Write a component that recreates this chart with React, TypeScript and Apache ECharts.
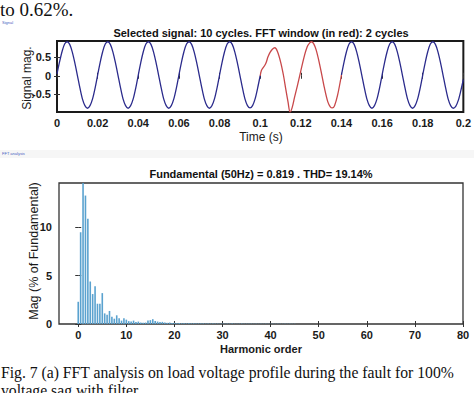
import React, { useEffect, useRef } from "react";
import * as echarts from "echarts";

// ---------- data ----------
// top panel: selected signal, sampled every 1.25 ms
const signalStep = 0.00125;
const blueStartTime = 0;
const blueBefore = [
  0.05, 0.37, 0.65, 0.85, 0.91, 0.84, 0.64, 0.35, 0.02, -0.32, -0.62, -0.8, -0.87, -0.8, -0.62, -0.33,
  0.02, 0.36, 0.65, 0.85, 0.91, 0.84, 0.64, 0.35, 0.02, -0.32, -0.62, -0.8, -0.87, -0.8, -0.62, -0.33,
  0.02, 0.36, 0.65, 0.85, 0.91, 0.84, 0.64, 0.35, 0.02, -0.32, -0.62, -0.8, -0.87, -0.8, -0.62, -0.33,
  0.02, 0.36, 0.65, 0.85, 0.91, 0.84, 0.64, 0.35, 0.02, -0.32, -0.62, -0.8, -0.87, -0.8, -0.62, -0.33,
  0.02, 0.36, 0.65, 0.85, 0.91, 0.84, 0.64, 0.35, 0.02, -0.32, -0.62, -0.8, -0.86, -0.8, -0.62, -0.33,
  0.0,
];
const blueAfterStart = 0.14;
const blueAfter = [
  0.02, 0.36, 0.65, 0.85, 0.91, 0.84, 0.64, 0.35, 0.02, -0.32, -0.62, -0.8, -0.87, -0.8, -0.62, -0.33,
  0.02, 0.36, 0.65, 0.85, 0.91, 0.84, 0.64, 0.35, 0.02, -0.32, -0.62, -0.8, -0.87, -0.8, -0.62, -0.33,
  0.02, 0.36, 0.65, 0.85, 0.91, 0.84, 0.64, 0.35, 0.02, -0.32, -0.62, -0.8, -0.87, -0.82, -0.66, -0.4,
  -0.1,
];
// FFT window (red), 2 cycles
const redTime = [
  0.1, 0.1006, 0.1015, 0.1023, 0.103, 0.1038, 0.1048, 0.106, 0.1072, 0.1085, 0.1101, 0.1115,
  0.1126, 0.1137, 0.1147, 0.1157, 0.1169, 0.1183, 0.12, 0.1216, 0.1232, 0.1244, 0.1253, 0.1263,
  0.1275, 0.1288, 0.1302, 0.1316, 0.1333, 0.1345, 0.1355, 0.1366, 0.1381, 0.14,
];
const redValue = [
  0.0, 0.14, 0.22, 0.28, 0.36, 0.5, 0.62, 0.71, 0.75, 0.65, 0.36, 0.0,
  -0.36, -0.7, -0.97, -0.86, -0.58, -0.27, 0.13, 0.5, 0.78, 0.88, 0.91, 0.86,
  0.7, 0.42, 0.06, -0.32, -0.7, -0.83, -0.86, -0.8, -0.52, 0.02,
];
const timeTicks = [0, 0.02, 0.04, 0.06, 0.08, 0.1, 0.12, 0.14, 0.16, 0.18, 0.2];
const signalTicks = [-0.5, 0, 0.5];

// bottom panel: FFT magnitude (% of fundamental), every 0.5 harmonic order
const harmonicStep = 0.5;
const magnitudes = [
  2.3, 9.5, 100, 13.3, 10.9, 4.4, 3.1, 3.9, 2.1, 2.1,
  3.2, 1.1, 0.95, 1.35, 0.75, 0.55, 0.9, 0.6, 0.35, 0.6,
  0.45, 0.3, 0.25, 0.35, 0.2, 0.25, 0.15, 0.12, 0.15, 0.35,
  0.4, 0.5, 0.3, 0.25, 0.2, 0.22, 0.15, 0.12, 0.15, 0.1,
  0.12, 0.08, 0.1, 0.07, 0.09, 0.06, 0.08, 0.06, 0.07, 0.05,
  0.06, 0.05, 0.06, 0.04, 0.05, 0.04, 0.05, 0.04, 0.04, 0.03,
  0.05, 0.03, 0.04, 0.03, 0.04, 0.03, 0.03, 0.03, 0.04, 0.02,
  0.03, 0.02, 0.03, 0.02, 0.03, 0.02, 0.02, 0.02, 0.03, 0.02,
  0.02, 0.02, 0.02, 0.02, 0.02, 0.02, 0.02, 0.02, 0.03, 0.02,
  0.02,
];
const harmonicTicks = [0, 10, 20, 30, 40, 50, 60, 70, 80];
const magTicks = [0, 5, 10];

// ---------- texts ----------
const topTitle = "Selected signal: 10 cycles. FFT window (in red): 2 cycles";
const bottomTitle = "Fundamental (50Hz) = 0.819 . THD= 19.14%";
const paperTop = "to 0.62%.";
const caption1 = "Fig. 7 (a) FFT analysis on load voltage profile during the fault for 100%";
const caption2 = "voltage sag with filter";

const SANS = "'Liberation Sans', Arial, Helvetica, sans-serif";
const SERIF = "'Liberation Serif', 'Times New Roman', serif";

export default function App() {
  const ref = useRef<HTMLDivElement>(null);
  useEffect(() => {
    if (!ref.current) return;
    const chart = echarts.init(ref.current, undefined, { renderer: "svg" });

    const tickStyle = { inside: true, length: 3, lineStyle: { color: "#333", width: 1 } };
    const labelStyle = { color: "#1a1a1a", fontFamily: SANS, fontSize: 11, fontWeight: "bold" as const };

    const blueA = blueBefore.map((v, i) => [blueStartTime + i * signalStep, v]);
    const blueB = blueAfter.map((v, i) => [blueAfterStart + i * signalStep, v]);
    const red = redTime.map((t, i) => [t, redValue[i]]);
    const bars = magnitudes.map((v, i) => [i * harmonicStep, v]);

    const lineCommon = {
      type: "line" as const,
      xAxisIndex: 0,
      yAxisIndex: 0,
      smooth: 0.3,
      showSymbol: false,
      symbol: "none",
      silent: true,
    };

    chart.setOption({
      animation: false,
      backgroundColor: "#ffffff",
      grid: [
        { left: 57, top: 41, width: 408, height: 71, show: true, borderColor: "#1a1a1a", borderWidth: 2, backgroundColor: "transparent" },
        { left: 59, top: 183, width: 404, height: 141, show: true, borderColor: "#333", borderWidth: 1.3, backgroundColor: "transparent" },
      ],
      xAxis: [
        {
          gridIndex: 0, type: "value", min: 0, max: 0.2, position: "bottom",
          axisLine: { show: false }, splitLine: { show: false },
          axisTick: { ...tickStyle, customValues: timeTicks },
          axisLabel: { ...labelStyle, margin: 5, customValues: timeTicks },
        },
        {
          gridIndex: 0, type: "value", min: 0, max: 0.2, position: "top",
          axisLine: { show: false }, splitLine: { show: false },
          axisTick: { ...tickStyle, customValues: timeTicks },
          axisLabel: { show: false },
        },
        {
          gridIndex: 1, type: "value", min: -4, max: 80, position: "bottom",
          axisLine: { show: false }, splitLine: { show: false },
          axisTick: { ...tickStyle, customValues: harmonicTicks },
          axisLabel: { ...labelStyle, margin: 5, customValues: harmonicTicks },
        },
        {
          gridIndex: 1, type: "value", min: -4, max: 80, position: "top",
          axisLine: { show: false }, splitLine: { show: false },
          axisTick: { ...tickStyle, customValues: harmonicTicks },
          axisLabel: { show: false },
        },
      ],
      yAxis: [
        {
          gridIndex: 0, type: "value", min: -0.97, max: 0.93, position: "left",
          axisLine: { show: false }, splitLine: { show: false },
          axisTick: { ...tickStyle, customValues: signalTicks },
          axisLabel: { ...labelStyle, margin: 6, customValues: signalTicks },
        },
        {
          gridIndex: 0, type: "value", min: -0.97, max: 0.93, position: "right",
          axisLine: { show: false }, splitLine: { show: false },
          axisTick: { ...tickStyle, customValues: signalTicks },
          axisLabel: { show: false },
        },
        {
          gridIndex: 1, type: "value", min: 0, max: 14.6, position: "left",
          axisLine: { show: false }, splitLine: { show: false },
          axisTick: { ...tickStyle, customValues: magTicks },
          axisLabel: { ...labelStyle, margin: 7, customValues: magTicks },
        },
        {
          gridIndex: 1, type: "value", min: 0, max: 14.6, position: "right",
          axisLine: { show: false }, splitLine: { show: false },
          axisTick: { ...tickStyle, customValues: magTicks },
          axisLabel: { show: false },
        },
      ],
      series: [
        { ...lineCommon, name: "signal", data: blueA, lineStyle: { color: "#2b2b8c", width: 1.3 } },
        { ...lineCommon, name: "signal2", data: blueB, lineStyle: { color: "#2b2b8c", width: 1.3 } },
        { ...lineCommon, name: "window", data: red, lineStyle: { color: "#c8484a", width: 1.3 } },
        {
          type: "bar", name: "fft", xAxisIndex: 2, yAxisIndex: 2, data: bars,
          barWidth: 1.6, clip: true, silent: true,
          itemStyle: { color: "#5aa2cf" },
        },
      ],
      graphic: [
        { type: "rect", shape: { x: 0, y: 150, width: 474, height: 8 }, style: { fill: "#f6f6f6" }, z: -1 },
        { type: "text", x: 0, y: 18.5, style: { text: paperTop, font: `19px ${SERIF}`, fill: "#111", align: "left", verticalAlign: "bottom" } },
        { type: "text", x: 2, y: 22, style: { text: "Signal", font: `4px ${SANS}`, fill: "#4a5fc1", align: "left", verticalAlign: "middle" } },
        { type: "text", x: 2, y: 153, style: { text: "FFT analysis", font: `4px ${SANS}`, fill: "#4a5fc1", align: "left", verticalAlign: "middle" } },
        { type: "text", x: 261, y: 33, style: { text: topTitle, font: `bold 11px ${SANS}`, fill: "#111", align: "center", verticalAlign: "middle" } },
        { type: "text", x: 261, y: 137, style: { text: "Time (s)", font: `12px ${SANS}`, fill: "#1a1a1a", align: "center", verticalAlign: "middle" } },
        { type: "text", x: 27, y: 78, rotation: Math.PI / 2, style: { text: "Signal mag.", font: `12px ${SANS}`, fill: "#1a1a1a", align: "center", verticalAlign: "middle" } },
        { type: "text", x: 261, y: 173.5, style: { text: bottomTitle, font: `bold 11px ${SANS}`, fill: "#111", align: "center", verticalAlign: "middle" } },
        { type: "text", x: 261, y: 349, style: { text: "Harmonic order", font: `bold 11px ${SANS}`, fill: "#1a1a1a", align: "center", verticalAlign: "middle" } },
        { type: "text", x: 34, y: 251, rotation: Math.PI / 2, style: { text: "Mag (% of Fundamental)", font: `12.5px ${SANS}`, fill: "#1a1a1a", align: "center", verticalAlign: "middle" } },
        { type: "text", x: 1, y: 380, style: { text: caption1, font: `15.7px ${SERIF}`, fill: "#111", align: "left", verticalAlign: "bottom" } },
        { type: "text", x: 1, y: 398, style: { text: caption2, font: `15.7px ${SERIF}`, fill: "#111", align: "left", verticalAlign: "bottom" } },
      ],
    });
    return () => chart.dispose();
  }, []);

  return (
    <div
      ref={ref}
      style={{ position: "absolute", left: 0, top: 0, width: 474, height: 393, background: "#fff" }}
    />
  );
}
